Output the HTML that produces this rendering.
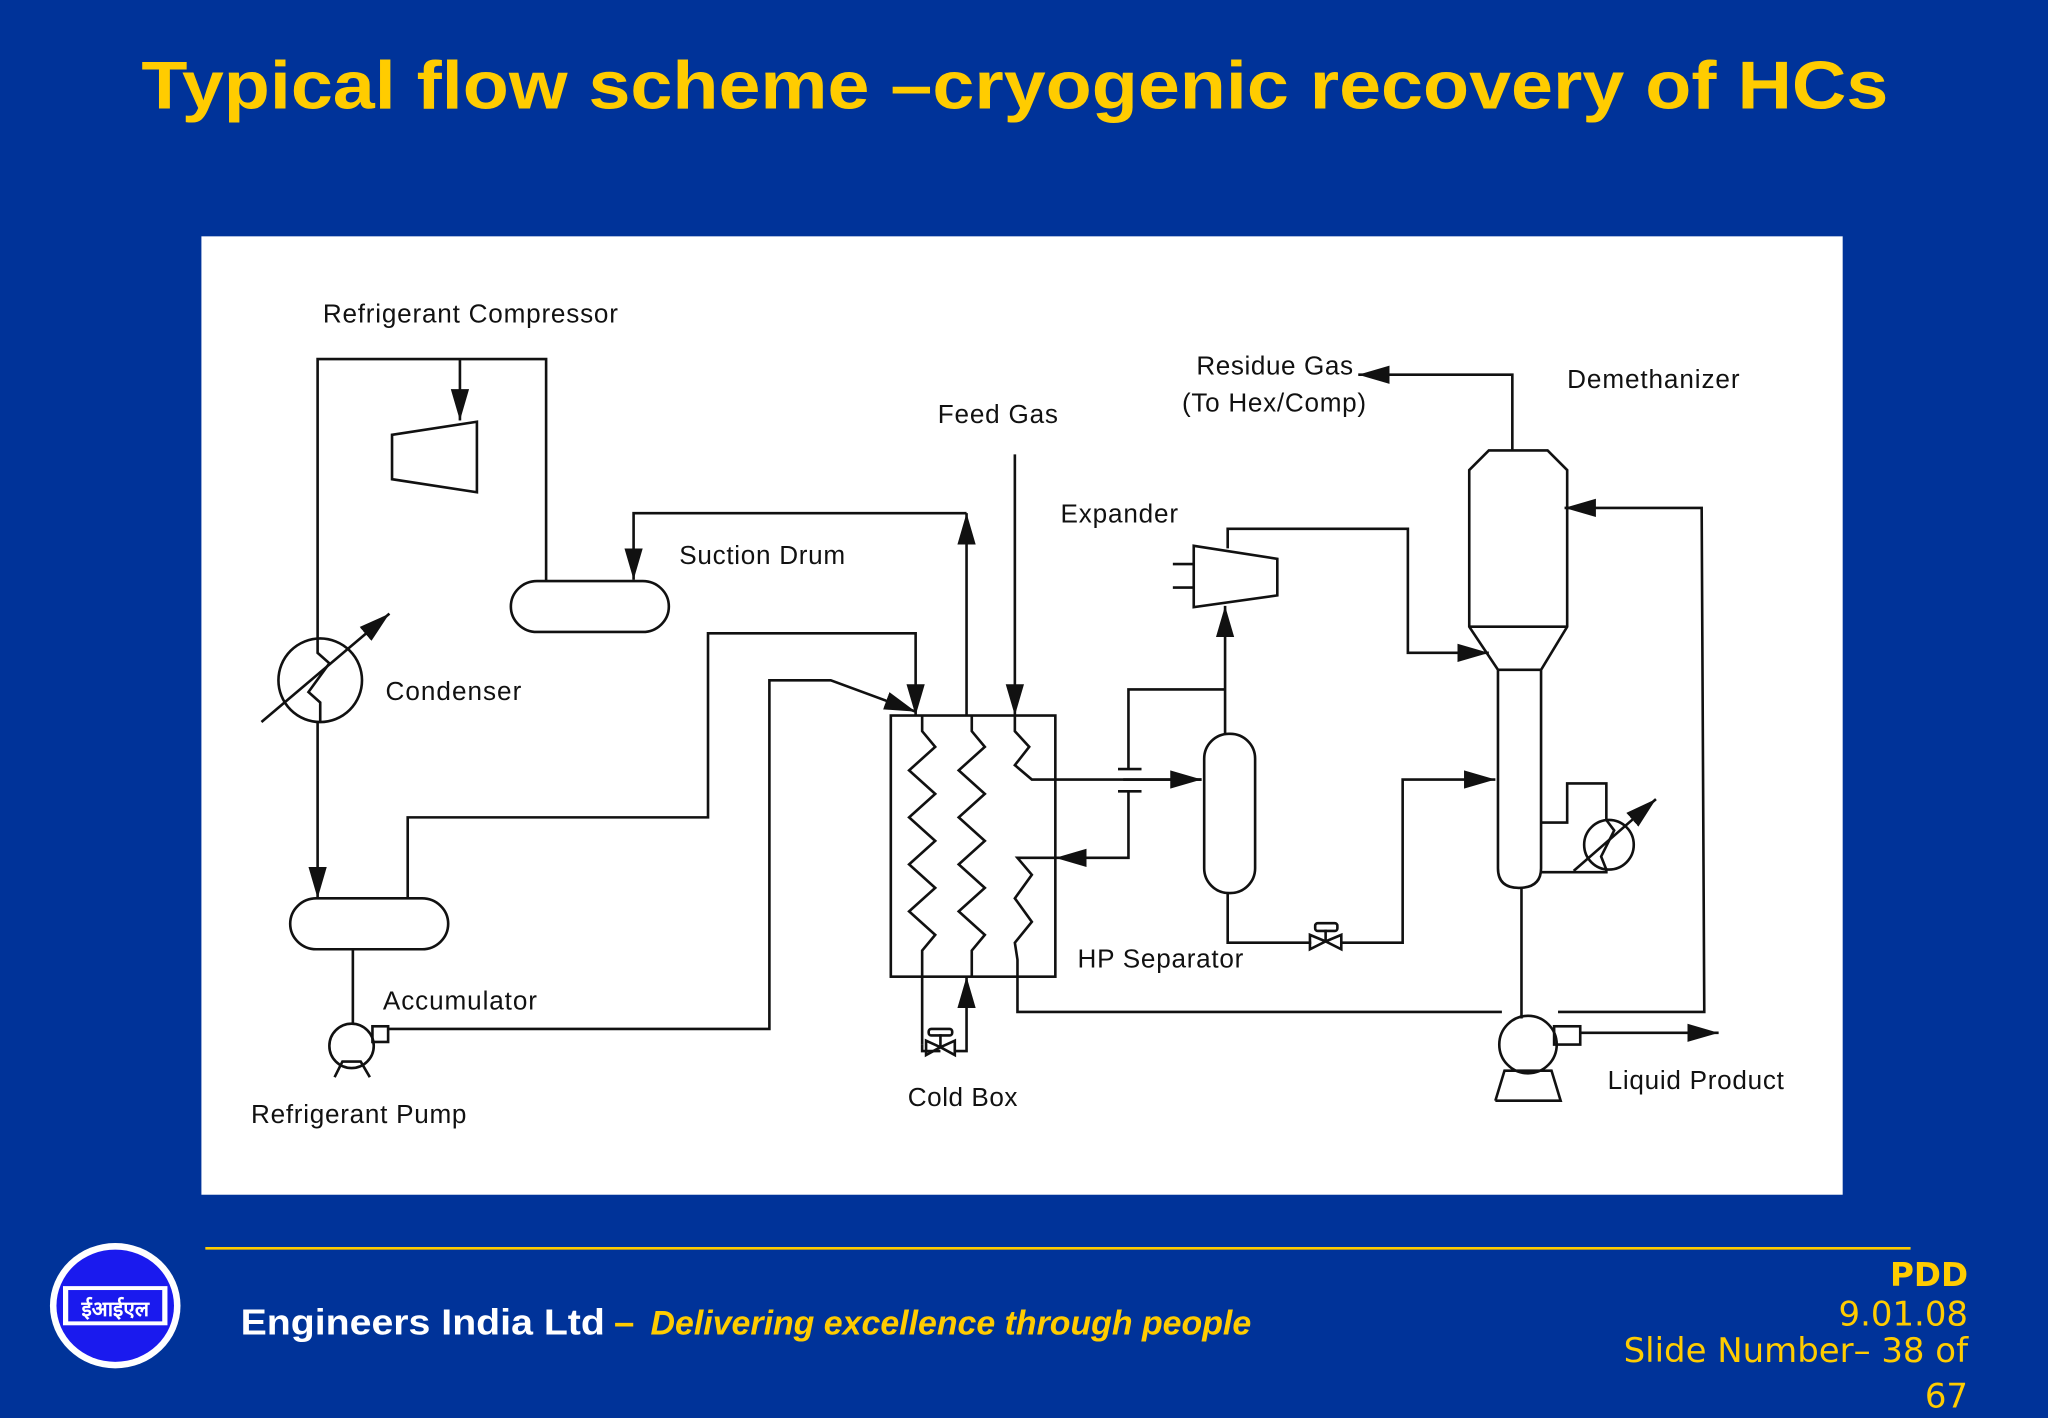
<!DOCTYPE html>
<html><head><meta charset="utf-8"><style>
html,body{margin:0;padding:0;background:#003399;}
svg{display:block}
</style></head><body>
<svg width="2048" height="1418" viewBox="0 0 1568 1086" xmlns="http://www.w3.org/2000/svg">
<defs>
<marker id="a" markerUnits="userSpaceOnUse" markerWidth="26" markerHeight="16" refX="24" refY="8" orient="auto">
<path d="M0,1 L24,8 L0,15 Z" fill="#111"/></marker>
</defs>
<rect width="1568" height="1086" fill="#003399"/>
<text x="777" y="83" text-anchor="middle" font-family="Liberation Sans, sans-serif" font-weight="bold" font-size="52" fill="#FFCC00" textLength="1338" lengthAdjust="spacingAndGlyphs">Typical flow scheme –cryogenic recovery of HCs</text>
<rect x="154" y="181" width="1257" height="734" fill="#fff"/>

<g stroke="#111" stroke-width="2" fill="none">
<polygon points="300,333 365,323 365,377 300,367"/>
<polyline points="243,490 243,275 418,275 418,445"/>
<line x1="352" y1="275" x2="352" y2="322" marker-end="url(#a)"/>
<rect x="391" y="445" width="121" height="39" rx="20"/>
<polyline points="740,393 485,393 485,444" marker-end="url(#a)"/>
<line x1="740" y1="548" x2="740" y2="393" marker-end="url(#a)"/>
<circle cx="245" cy="521" r="32"/>
<polyline points="243,489 243,500 252,508 236,530 245,538 245,553"/>
<line x1="200" y1="553" x2="298" y2="470" marker-end="url(#a)"/>
<line x1="243" y1="553" x2="243" y2="688" marker-end="url(#a)"/>
<rect x="222" y="688" width="121" height="39" rx="20"/>
<polyline points="312,688 312,626 542,626 542,485 701,485 701,548" marker-end="url(#a)"/>
<line x1="270" y1="727" x2="270" y2="785"/>
<circle cx="269" cy="801" r="17"/>
<rect x="285" y="786" width="12" height="12"/>
<polyline points="256,825 262,813 276,813 283,825"/>
<polyline points="297,788 589,788 589,521 636,521 701,545" marker-end="url(#a)"/>
<rect x="682" y="548" width="126" height="200"/>
<polyline points="706,548 706,560 716,572 696,590 716,608 696,626 716,644 696,662 716,680 696,698 716,716 706,728 706,800"/>
<polyline points="744,548 744,560 754,572 734,590 754,608 734,626 754,644 734,662 754,680 734,698 754,716 744,728 744,748"/>
<polyline points="777,348 777,548" marker-end="url(#a)"/>
<polyline points="777,548 777,560 788,572 777,586 790,597 920,597" />
<line x1="860" y1="597" x2="920" y2="597" marker-end="url(#a)"/>
<polyline points="864,606 864,657 808,657" marker-end="url(#a)"/>
<polyline points="808,657 779,657 790,670 777,688 790,706 777,722 779,735 779,775 1150,775"/>
<line x1="856" y1="589" x2="874" y2="589"/><line x1="856" y1="606" x2="874" y2="606"/>
<polyline points="864,589 864,528 938,528"/>
<polyline points="706,800 706,805 720,805"/>
<polygon points="709,797 720,802 709,808"/><polygon points="731,797 720,802 731,808"/>
<line x1="720" y1="802" x2="720" y2="792"/><rect x="711" y="788" width="18" height="5" rx="2"/>
<polyline points="731,805 740,805 740,748" marker-end="url(#a)"/>
<rect x="922" y="562" width="39" height="122" rx="19"/>
<line x1="938" y1="562" x2="938" y2="464" marker-end="url(#a)"/>
<polyline points="940,684 940,722 1004,722"/>
<polygon points="1003,716 1015,721 1003,727"/><polygon points="1027,716 1015,721 1027,727"/>
<line x1="1015" y1="721" x2="1015" y2="712"/><rect x="1007" y="707" width="17" height="6" rx="2"/>
<polyline points="1027,722 1074,722 1074,597 1145,597" marker-end="url(#a)"/>
<polygon points="914,418 978,428 978,456 914,465"/>
<polyline points="898,432 914,432"/><polyline points="898,450 914,450"/>
<polyline points="940,420 940,405 1078,405 1078,500 1140,500" marker-end="url(#a)"/>
<path d="M1125,480 L1125,360 L1140,345 L1185,345 L1200,360 L1200,480 L1180,513 L1180,665 Q1180,680 1163,680 Q1147,680 1147,665 L1147,513 Z"/>
<line x1="1125" y1="480" x2="1200" y2="480"/><line x1="1147" y1="513" x2="1180" y2="513"/>
<polyline points="1158,345 1158,287 1040,287" marker-end="url(#a)"/>
<polyline points="1193,775 1305,775 1303,389 1198,389" marker-end="url(#a)"/>
<line x1="1165" y1="680" x2="1165" y2="780"/>
<circle cx="1232" cy="647" r="19"/>
<polyline points="1180,630 1200,630 1200,600 1230,600 1230,628"/>
<polyline points="1180,668 1230,668 1230,666"/>
<polyline points="1230,628 1236,636 1226,656 1230,666"/>
<line x1="1205" y1="667" x2="1268" y2="612" marker-end="url(#a)"/>
<circle cx="1170" cy="800" r="22"/>
<rect x="1190" y="786" width="20" height="14"/>
<polyline points="1145,843 1152,820 1188,820 1195,843 1145,843"/>
<line x1="1210" y1="791" x2="1316" y2="791" marker-end="url(#a)"/>
</g>

<g font-family="Liberation Sans, sans-serif" font-size="20" fill="#111" lengthAdjust="spacingAndGlyphs">
<text x="247" y="247" textLength="226">Refrigerant Compressor</text>
<text x="916" y="287" textLength="120">Residue Gas</text>
<text x="905" y="315" textLength="141">(To Hex/Comp)</text>
<text x="1200" y="297" textLength="132">Demethanizer</text>
<text x="718" y="324" textLength="92">Feed Gas</text>
<text x="812" y="400" textLength="90">Expander</text>
<text x="520" y="432" textLength="127">Suction Drum</text>
<text x="295" y="536" textLength="104">Condenser</text>
<text x="825" y="741" textLength="127">HP Separator</text>
<text x="293" y="773" textLength="118">Accumulator</text>
<text x="192" y="860" textLength="165">Refrigerant Pump</text>
<text x="695" y="847" textLength="84">Cold Box</text>
<text x="1231" y="834" textLength="135">Liquid Product</text>
</g>

<line x1="157" y1="956" x2="1463" y2="956" stroke="#FFCC00" stroke-width="2"/>
<ellipse cx="88" cy="1000" rx="50" ry="48" fill="#fff"/>
<ellipse cx="88" cy="1000" rx="45" ry="43" fill="#1a1aee"/>
<rect x="48" y="985" width="80" height="30" fill="#fff"/>
<rect x="52" y="988" width="72" height="24" fill="#1a1aee"/>
<text x="88" y="1008" text-anchor="middle" font-family="Liberation Sans, sans-serif" font-size="16" font-weight="bold" fill="#fff">ईआईएल</text>
<text x="184" y="1022" font-family="Liberation Sans, sans-serif" font-weight="bold" font-size="28" fill="#fff" textLength="279" lengthAdjust="spacingAndGlyphs">Engineers India Ltd</text>
<text x="470" y="1022" font-family="Liberation Sans, sans-serif" font-weight="bold" font-size="28" fill="#FFCC00">–</text>
<text x="498" y="1022" font-family="Liberation Sans, sans-serif" font-weight="bold" font-style="italic" font-size="26" fill="#FFCC00" textLength="460" lengthAdjust="spacingAndGlyphs">Delivering excellence through people</text>
<g font-family="DejaVu Sans, sans-serif" font-size="26" fill="#FFCC00" text-anchor="end">
<text x="1507" y="985" font-weight="bold" font-size="25">PDD</text>
<text x="1507" y="1015">9.01.08</text>
<text x="1507" y="1043">Slide Number– 38 of</text>
<text x="1507" y="1078">67</text>
</g>
</svg>
</body></html>
